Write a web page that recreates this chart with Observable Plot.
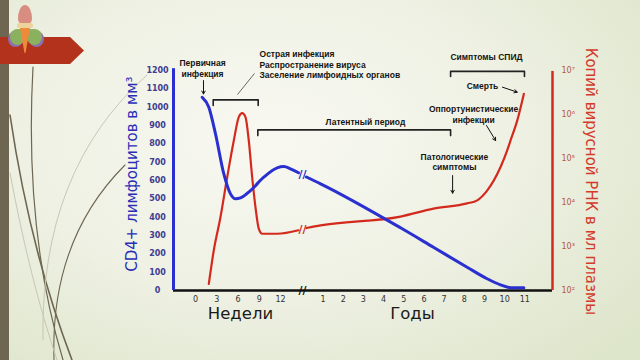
<!DOCTYPE html>
<html><head><meta charset="utf-8">
<script src="https://cdn.jsdelivr.net/npm/d3@7"></script>
<script src="https://cdn.jsdelivr.net/npm/@observablehq/plot@0.6"></script>
<style>
html,body{margin:0;padding:0;width:640px;height:360px;overflow:hidden;}
body{position:relative;background:radial-gradient(ellipse 75% 85% at 42% 38%, #f8f8f1 0%, #eff1e4 50%, #dde5ca 100%);font-family:"Liberation Sans",Arial,sans-serif;}
#deco{position:absolute;left:0;top:0;}
#strip{position:absolute;left:0;top:0;width:9px;height:360px;background:#6e6651;}
#banner{position:absolute;left:0;top:37px;width:84px;height:27px;background:#b2321c;clip-path:polygon(0 0,70px 0,84px 13.5px,70px 27px,0 27px);}
#flame{position:absolute;left:18px;top:5px;width:14px;height:20px;background:#d98c80;border-radius:50% 50% 45% 45% / 70% 70% 30% 30%;}
#cup{position:absolute;left:17px;top:23px;width:16px;height:5px;background:#ecd39c;border-radius:2px;}
#leafL{position:absolute;left:10px;top:29px;width:15px;height:16px;background:#8bb05e;border-radius:50% 10% 50% 50%;box-shadow:-2px 2px 0 #8c6fb2;}
#leafR{position:absolute;left:27px;top:29px;width:15px;height:16px;background:#8bb05e;border-radius:10% 50% 50% 50%;box-shadow:2px 2px 0 #8c6fb2;}
#handle{position:absolute;left:20px;top:28px;width:10px;height:25px;background:#ee8a3c;clip-path:polygon(0 0,100% 0,55% 100%,45% 100%);}
#chart{position:absolute;left:0;top:0;}
</style></head>
<body>
<svg id="deco" width="640" height="360">
<g fill="none" stroke-linecap="round">
<path d="M33,67 Q24,230 63,360" stroke="#6e6651" stroke-width="1.2"/>
<path d="M10,115 Q30,250 72,360" stroke="#6e6651" stroke-width="1.6"/>
<path d="M125,165 Q50,240 54,360" stroke="#6e6651" stroke-width="1.1"/>
<path d="M147,75 Q40,170 43,340" stroke="#c9c6b4" stroke-width="1"/>
<path d="M10,173 Q30,280 57,360" stroke="#c9c6b4" stroke-width="1"/>
</g>
</svg>
<div id="strip"></div>
<div id="banner"></div>
<div id="flame"></div>
<div id="cup"></div>
<div id="leafL"></div>
<div id="leafR"></div>
<div id="handle"></div>
<div id="chart"></div>
<script>
// ---- data ----
// CD4+ count, acute phase (weeks)
const cd4Weeks    = [0.95, 1.88, 2.82, 4.0, 4.94, 5.65, 6.35, 7.76, 9.64, 11.53, 12.47, 13.41, 14.54];
const cd4WeeksVal = [1054, 1000, 855, 636, 527, 500, 505, 545, 618, 669, 676, 664, 642];
// CD4+ count, chronic phase (years)
const cd4Years    = [0.18, 0.88, 4.84, 6.47, 8.14, 9.13, 9.79, 10.29, 10.95];
const cd4YearsVal = [619, 582, 342, 236, 127, 64, 31, 15, 15];
// viral RNA copies per ml, acute phase (weeks)
const rnaWeeks    = [1.88, 2.58, 3.53, 4.48, 5.41, 6.11, 6.59, 7.06, 7.52, 8.0, 8.47, 8.94, 9.42, 11.53, 14.54];
const rnaWeeksVal = [141, 813, 4680, 38000, 257000, 871000, 1070000, 871000, 257000, 38000, 7760, 2510, 1950, 1950, 2340];
// viral RNA copies per ml, chronic phase (years)
const rnaYears    = [0.18, 0.88, 4.84, 6.47, 8.14, 8.64, 9.13, 9.79, 10.12, 10.29, 10.62, 10.95];
const rnaYearsVal = [2630, 3020, 4790, 7240, 9550, 11200, 18600, 63100, 151000, 257000, 724000, 2950000];

// tick labels
const weekTicks = [0, 3, 6, 9, 12];
const yearTicks = [1, 2, 3, 4, 5, 6, 7, 8, 9, 10, 11];
const cd4Ticks  = [0, 100, 200, 300, 400, 500, 600, 700, 800, 900, 1000, 1100, 1200];
const rnaTicks  = [1e2, 1e3, 1e4, 1e5, 1e6, 1e7];
const rnaTickLabels = ["10²", "10³", "10⁴", "10⁵", "10⁶", "10⁷"];

// texts
const yTitleLeft  = "CD4+ лимфоцитов в мм³";
const yTitleRight = "Копий вирусной РНК в мл плазмы";
const xTitleWeeks = "Недели";
const xTitleYears = "Годы";

// ---- broken time axis: weeks then years ----
const wk = w => w / 3;
const yr = y => 5.05 + 0.95 * y;
const X0 = -1.035, X1 = 16.8;
// secondary (log) axis mapped onto the CD4 range
const rnaY = d3.scaleLog().domain([1e2, 1e7]).range([0, 1200]);

const cd4 = [
  ...cd4Weeks.map((w, i) => ({x: wk(w), y: cd4WeeksVal[i], seg: "w"})),
  ...cd4Years.map((t, i) => ({x: yr(t), y: cd4YearsVal[i], seg: "y"}))
];
const rna = [
  ...rnaWeeks.map((w, i) => ({x: wk(w), y: rnaY(rnaWeeksVal[i]), seg: "w"})),
  ...rnaYears.map((t, i) => ({x: yr(t), y: rnaY(rnaYearsVal[i]), seg: "y"}))
];
const breakX = (wk(cd4Weeks.at(-1)) + yr(cd4Years[0])) / 2;
const breaks = [
  {x: breakX, y: 0, c: "#111"},
  {x: breakX, y: (cd4WeeksVal.at(-1) + cd4YearsVal[0]) / 2, c: "#2a2fd0"},
  {x: breakX, y: (rnaY(rnaWeeksVal.at(-1)) + rnaY(rnaYearsVal[0])) / 2, c: "#d42a1e"}
];

// annotations (anchored in weeks / years and CD4 units)
const notes = [
  {x: wk(0.99), y: 1214, text: "Первичная\nинфекция", a: "middle", lh: 1.3},
  {x: wk(9.04), y: 1233, text: "Острая инфекция\nРаспространение вируса\nЗаселение лимфоидных органов", a: "start", lh: 1.24},
  {x: yr(3.1), y: 918, text: "Латентный период", a: "middle", lh: 1},
  {x: yr(9.1), y: 1273, text: "Симптомы СПИД", a: "middle", lh: 1},
  {x: yr(8.9), y: 1113, text: "Смерть", a: "middle", lh: 1},
  {x: yr(8.46), y: 961, text: "Оппортунистические\nинфекции", a: "middle", lh: 1.3},
  {x: yr(7.51), y: 700, text: "Патологические\nсимптомы", a: "middle", lh: 1.18}
];
const brackets = [
  {id: "acute", x1: wk(2.5), x2: wk(8.85), y: 1040, leg: 1009},
  {id: "latent", x1: wk(8.8), x2: yr(7.32), y: 876, leg: 845},
  {id: "aids", x1: yr(7.32), x2: yr(10.98), y: 1195, leg: 1167}
];
const bracketPts = brackets.flatMap(b => [
  {id: b.id, x: b.x1, y: b.leg}, {id: b.id, x: b.x1, y: b.y},
  {id: b.id, x: b.x2, y: b.y}, {id: b.id, x: b.x2, y: b.leg}
]);
const arrows = [
  {x1: wk(1.13), y1: 1145, x2: wk(1.13), y2: 1072},
  {x1: yr(9.89), y1: 1109, x2: yr(10.62), y2: 1082},
  {x1: yr(9.1), y1: 900, x2: yr(9.55), y2: 818},
  {x1: yr(7.42), y1: 627, x2: yr(7.42), y2: 531}
];
const leader = [{x1: wk(5.93), y1: 1069, x2: wk(8.33), y2: 1184}];

const blue = "#2a2fd0", red = "#d42a1e";
const tickFont = "DejaVu Sans, sans-serif";

const plot = Plot.plot({
  width: 640, height: 360,
  marginLeft: 173, marginRight: 88, marginTop: 70, marginBottom: 70,
  x: {domain: [X0, X1], axis: null},
  y: {domain: [0, 1200], axis: null},
  style: {background: "transparent", fontFamily: "Liberation Sans, Arial, sans-serif", overflow: "visible"},
  marks: [
    // axes
    Plot.ruleY([0], {stroke: "#111", strokeWidth: 2.5}),
    Plot.ruleX([X0], {y1: 0, y2: 1210, stroke: blue, strokeWidth: 3}),
    Plot.ruleX([X1], {y1: 0, y2: 1195, stroke: red, strokeWidth: 2.5}),
    Plot.text(cd4Ticks, {x: X0, y: d => d, dx: -16, text: d => String(d), textAnchor: "middle", fontSize: 8, fontWeight: "bold", fill: "#3d3d92", fontFamily: tickFont}),
    Plot.text(rnaTicks, {x: X1, y: d => rnaY(d), dx: 9, text: (d, i) => rnaTickLabels[i], textAnchor: "start", fontSize: 8, fill: "#b9533f", fontFamily: tickFont}),
    Plot.text(weekTicks, {x: d => wk(d), y: 0, dy: 9, text: d => String(d), fontSize: 8, fill: "#333", fontFamily: tickFont}),
    Plot.text(yearTicks, {x: d => yr(d), y: 0, dy: 9, text: d => String(d), fontSize: 8, fill: "#333", fontFamily: tickFont}),
    Plot.text([xTitleWeeks], {x: wk(6.35), y: -125, text: d => d, fontSize: 16.5, fill: "#1a1a1a", fontFamily: tickFont}),
    Plot.text([xTitleYears], {x: yr(5.43), y: -125, text: d => d, fontSize: 16.5, fill: "#1a1a1a", fontFamily: tickFont}),
    Plot.text([yTitleLeft], {x: -2.96, y: 635, text: d => d, rotate: -90, fontSize: 15, fill: "#2b2fb8", fontFamily: tickFont}),
    Plot.text([yTitleRight], {x: 18.59, y: 595, text: d => d, rotate: 90, fontSize: 15, fill: "#d43a2a", fontFamily: tickFont}),
    // curves
    Plot.line(rna, {x: "x", y: "y", z: "seg", stroke: red, strokeWidth: 2.2, curve: "monotone-x"}),
    Plot.line(cd4, {x: "x", y: "y", z: "seg", stroke: blue, strokeWidth: 3, curve: "monotone-x"}),
    Plot.text(breaks, {x: "x", y: "y", text: () => "//", fill: "c", fontSize: 11, fontWeight: "bold", fontFamily: tickFont}),
    // annotations
    Plot.line(bracketPts, {x: "x", y: "y", z: "id", stroke: "#222", strokeWidth: 1.6}),
    Plot.link(leader, {x1: "x1", y1: "y1", x2: "x2", y2: "y2", stroke: "#444", strokeWidth: 0.8}),
    Plot.arrow(arrows, {x1: "x1", y1: "y1", x2: "x2", y2: "y2", stroke: "#111", strokeWidth: 1, headLength: 5}),
    ...notes.map(n => Plot.text([n], {x: "x", y: "y", text: "text", textAnchor: n.a, lineHeight: n.lh, fontSize: 8.5, fontWeight: "bold", fill: "#151515"}))
  ]
});
document.getElementById("chart").appendChild(plot);
</script>
</body></html>
